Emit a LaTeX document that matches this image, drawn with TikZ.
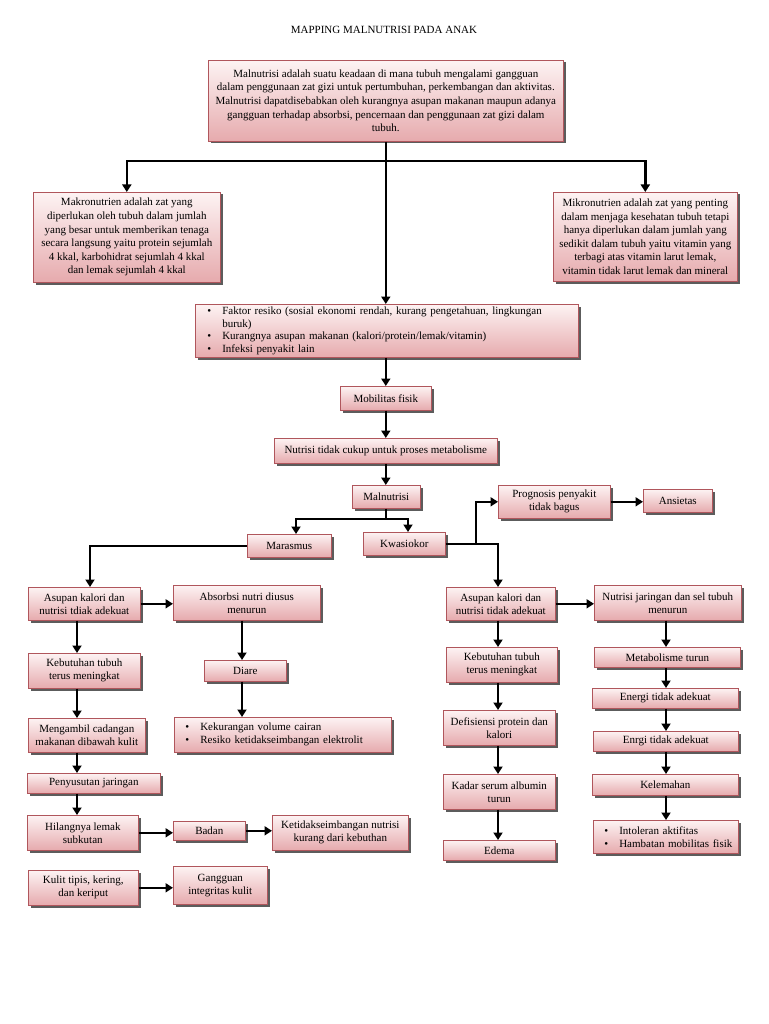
\documentclass[tikz,border=0pt]{standalone}
\usepackage{fontspec}
\setmainfont{Liberation Serif}
\usetikzlibrary{arrows.meta,shadows}
\definecolor{boxtop}{HTML}{FDF3F3}
\definecolor{boxbot}{HTML}{E6AAAD}
\definecolor{boxline}{HTML}{B0565C}
\newcommand\bx[7][]{%
  \pgfmathsetmacro\bxw{#5-#3}\pgfmathsetmacro\bxh{#6-#4}%
  \node[box,minimum width=\bxw pt,minimum height=\bxh pt,anchor=north west,#1] (#2) at (#3,#4) {#7};}
\newcommand\bul{\makebox[15pt][l]{\textbullet}}
\tikzset{
  box/.style={draw=boxline, line width=0.6pt, top color=boxtop, bottom color=boxbot,
    drop shadow={shadow xshift=2.2pt, shadow yshift=-2.2pt, fill=black!75, opacity=0.85},
    align=center, inner xsep=2pt, inner ysep=1pt,
    font=\fontsize{11}{13}\selectfont},
  conn/.style={line width=2.6pt, -{Triangle[length=7.5pt,width=9pt]}},
  conn2/.style={line width=2.6pt, {Triangle[length=7.5pt,width=9pt]}-{Triangle[length=7.5pt,width=9pt]}},
  plain/.style={line width=2.6pt},
  titletext/.style={font=\fontsize{11}{13}\selectfont}
}
\begin{document}
\begin{tikzpicture}[x=1pt,y=-1pt]
\useasboundingbox[fill=white] (0,0) rectangle (768,1024);
\node[titletext] (title) at (384,30) {MAPPING MALNUTRISI PADA ANAK};
\bx[font=\fontsize{11}{13.6}\selectfont]{top}{208}{60}{563}{141}{Malnutrisi adalah suatu keadaan di mana tubuh mengalami gangguan\\dalam penggunaan zat gizi untuk pertumbuhan, perkembangan dan aktivitas.\\Malnutrisi dapatdisebabkan oleh kurangnya asupan makanan maupun adanya\\gangguan terhadap absorbsi, pencernaan dan penggunaan zat gizi dalam\\tubuh.}
\bx[font=\fontsize{11}{13.6}\selectfont]{mak}{33}{192}{220}{282}{Makronutrien adalah zat yang\\diperlukan oleh tubuh dalam jumlah\\yang besar untuk memberikan tenaga\\secara langsung yaitu protein sejumlah\\4 kkal, karbohidrat sejumlah 4 kkal\\dan lemak sejumlah 4 kkal}
\bx[font=\fontsize{11}{13.6}\selectfont]{mik}{553}{192}{737}{281}{Mikronutrien adalah zat yang penting\\dalam menjaga kesehatan tubuh tetapi\\hanya diperlukan dalam jumlah yang\\sedikit dalam tubuh yaitu vitamin yang\\terbagi atas vitamin larut lemak,\\vitamin tidak larut lemak dan mineral}
\bx[align=left,text width=377pt,inner xsep=3pt,font=\fontsize{11}{12.4}\selectfont]{fac}{195}{304}{578}{357}{\hspace*{9pt}\bul Faktor resiko (sosial ekonomi rendah, kurang pengetahuan, lingkungan\\\hspace*{24pt}buruk)\\\hspace*{9pt}\bul Kurangnya asupan makanan (kalori/protein/lemak/vitamin)\\\hspace*{9pt}\bul Infeksi penyakit lain}
\bx{mob}{340}{386}{431}{410}{Mobilitas fisik}
\bx{nut}{274}{438}{497}{463}{Nutrisi tidak cukup untuk proses metabolisme}
\bx{mal}{352}{485}{420}{508}{Malnutrisi}
\bx{mar}{247}{534}{331}{557}{Marasmus}
\bx{kwa}{363}{532}{445}{555}{Kwasiokor}
\bx{prog}{498}{485}{610}{518}{Prognosis penyakit\\tidak bagus}
\bx{ans}{643}{489}{712}{512}{Ansietas}
% left side
\bx{asL}{28}{587}{140}{620}{Asupan kalori dan\\nutrisi tdiak adekuat}
\bx{abs}{173}{585}{320}{620}{Absorbsi nutri diusus\\menurun}
\bx{kebL}{28}{653}{140}{688}{Kebutuhan tubuh\\terus meningkat}
\bx{diare}{204}{660}{286}{681}{Diare}
\bx[align=left,text width=211pt,inner xsep=3pt]{kek}{174}{717}{391}{752}{\hspace*{8pt}\bul Kekurangan volume cairan\\\hspace*{8pt}\bul Resiko ketidakseimbangan elektrolit}
\bx{meng}{28}{718}{145}{752}{Mengambil cadangan\\makanan dibawah kulit}
\bx{peny}{27}{773}{160}{793}{Penyusutan jaringan}
\bx{hil}{27}{815}{138}{850}{Hilangnya lemak\\subkutan}
\bx{badan}{173}{821}{245}{840}{Badan}
\bx{ketid}{272}{815}{408}{850}{Ketidakseimbangan nutrisi\\kurang dari kebuthan}
\bx{kulit}{28}{870}{138}{905}{Kulit tipis, kering,\\dan keriput}
\bx{gang}{173}{866}{267}{904}{Gangguan\\integritas kulit}
% right side
\bx{asR}{446}{587}{555}{620}{Asupan kalori dan\\nutrisi tidak adekuat}
\bx{nj}{594}{585}{741}{620}{Nutrisi jaringan dan sel tubuh\\menurun}
\bx{kebR}{446}{647}{557}{682}{Kebutuhan tubuh\\terus meningkat}
\bx{meta}{594}{647}{740}{667}{Metabolisme turun}
\bx{energi}{592}{688}{738}{708}{Energi tidak adekuat}
\bx{def}{443}{710}{555}{745}{Defisiensi protein dan\\kalori}
\bx{enrgi}{593}{731}{738}{751}{Enrgi tidak adekuat}
\bx{kadar}{443}{774}{555}{809}{Kadar serum albumin\\turun}
\bx{kel}{592}{774}{738}{795}{Kelemahan}
\bx[align=left,text width=139pt,inner xsep=3pt]{intol}{593}{820}{738}{853}{\hspace*{8pt}\bul Intoleran aktifitas\\\hspace*{8pt}\bul Hambatan mobilitas fisik}
\bx{edema}{443}{840}{555}{860}{Edema}
% column coordinates
\coordinate (hb) at (385,161);
\coordinate (mbL) at (296,519);
\coordinate (mbR) at (408,519);
\coordinate (colM) at (90,0);
\coordinate (colL) at (77,0);
\coordinate (colA) at (242,0);
\coordinate (colR) at (498,0);
\coordinate (colRR) at (666,0);
\coordinate (brk) at (476,0);
% connectors
\draw[conn] (top.south) -- (top.south |- fac.north);
\draw[conn2] (mak.north) |- (hb) -| (mik.north);
\draw[conn] (fac.south -| top.south) -- (top.south |- mob.north);
\draw[conn] (mob.south -| top.south) -- (top.south |- nut.north);
\draw[conn] (nut.south -| top.south) -- (top.south |- mal.north);
\draw[plain] (mal.south -| top.south) -- (top.south |- mbL);
\draw[conn2] (mbL |- mar.north) -- (mbL) -- (mbR) -- (mbR |- kwa.north);
\draw[conn] (mar.west) -| (colM |- asL.north);
\draw[conn] (kwa.east) -| (colR |- asR.north);
\draw[conn] (brk |- kwa.east) |- (prog.west);
\draw[conn] (prog.east) -- (prog.east -| ans.west);
% left column
\draw[conn] (asL.east) -- (asL.east -| abs.west);
\draw[conn] (colL |- asL.south) -- (colL |- kebL.north);
\draw[conn] (colL |- kebL.south) -- (colL |- meng.north);
\draw[conn] (colL |- meng.south) -- (colL |- peny.north);
\draw[conn] (colL |- peny.south) -- (colL |- hil.north);
\draw[conn] (colA |- abs.south) -- (colA |- diare.north);
\draw[conn] (colA |- diare.south) -- (colA |- kek.north);
\draw[conn] (hil.east) -- (hil.east -| badan.west);
\draw[conn] (badan.east) -- (badan.east -| ketid.west);
\draw[conn] (kulit.east) -- (kulit.east -| gang.west);
% right column
\draw[conn] (asR.east) -- (asR.east -| nj.west);
\draw[conn] (colR |- asR.south) -- (colR |- kebR.north);
\draw[conn] (colR |- kebR.south) -- (colR |- def.north);
\draw[conn] (colR |- def.south) -- (colR |- kadar.north);
\draw[conn] (colR |- kadar.south) -- (colR |- edema.north);
\draw[conn] (colRR |- nj.south) -- (colRR |- meta.north);
\draw[conn] (colRR |- meta.south) -- (colRR |- energi.north);
\draw[conn] (colRR |- energi.south) -- (colRR |- enrgi.north);
\draw[conn] (colRR |- enrgi.south) -- (colRR |- kel.north);
\draw[conn] (colRR |- kel.south) -- (colRR |- intol.north);
\end{tikzpicture}
\end{document}
